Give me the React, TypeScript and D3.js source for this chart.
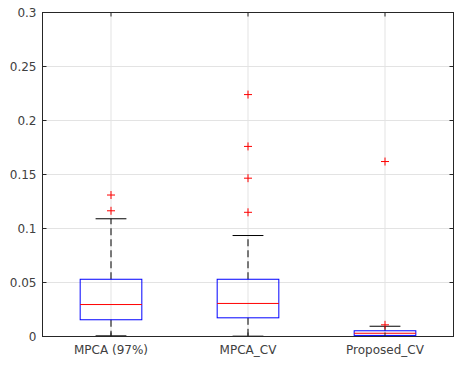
import React, { useEffect, useRef } from "react";
import * as d3 from "d3";

// box plot summary
const categories = ["MPCA (97%)", "MPCA_CV", "Proposed_CV"];
const q1 = [0.0155, 0.0173, 0.001];
const medians = [0.0296, 0.0306, 0.003];
const q3 = [0.053, 0.053, 0.0053];
const whiskerLow = [0.0006, 0.0003, 0.0003];
const whiskerHigh = [0.109, 0.0935, 0.0095];
const outliers = [
    [0.1164, 0.131],
    [0.115, 0.1466, 0.176, 0.224],
    [0.0108, 0.162]
];
const yTicks = [0, 0.05, 0.1, 0.15, 0.2, 0.25, 0.3];
const yTickLabels = ["0", "0.05", "0.1", "0.15", "0.2", "0.25", "0.3"];

const App = () => {
    const width = 474;
    const height = 365;
    const margin = { top: 12, right: 21, bottom: 29, left: 42 };

    const ref = useRef<SVGGElement>(null);

    useEffect(() => {
        const innerW = width - margin.left - margin.right;
        const innerH = height - margin.top - margin.bottom;

        const x = d3.scaleLinear().domain([0.5, 3.5]).range([0, innerW]);
        const y = d3.scaleLinear().domain([0, 0.3]).range([innerH, 0]);
        const boxW = x(1.225) - x(1);
        const capW = boxW / 2;
        const axisColor = "#262626";
        const textColor = "#404040";

        const g = d3.select(ref.current);
        g.selectAll("*").remove();

        // grid
        g.selectAll("line.hgrid")
            .data(yTicks)
            .enter()
            .append("line")
            .attr("class", "hgrid")
            .attr("x1", 0)
            .attr("x2", innerW)
            .attr("y1", d => y(d))
            .attr("y2", d => y(d))
            .attr("stroke", "#e3e3e3")
            .attr("stroke-width", 1);

        g.selectAll("line.vgrid")
            .data(categories)
            .enter()
            .append("line")
            .attr("class", "vgrid")
            .attr("x1", (d, i) => x(i + 1))
            .attr("x2", (d, i) => x(i + 1))
            .attr("y1", 0)
            .attr("y2", innerH)
            .attr("stroke", "#e3e3e3")
            .attr("stroke-width", 1);

        const boxes = g.selectAll("g.box")
            .data(categories)
            .enter()
            .append("g")
            .attr("class", "box");

        // whiskers (dashed)
        boxes.append("line")
            .attr("x1", (d, i) => x(i + 1))
            .attr("x2", (d, i) => x(i + 1))
            .attr("y1", (d, i) => y(q3[i]))
            .attr("y2", (d, i) => y(whiskerHigh[i]))
            .attr("stroke", "black")
            .attr("stroke-dasharray", "7,4");

        boxes.append("line")
            .attr("x1", (d, i) => x(i + 1))
            .attr("x2", (d, i) => x(i + 1))
            .attr("y1", (d, i) => y(q1[i]))
            .attr("y2", (d, i) => y(whiskerLow[i]))
            .attr("stroke", "black")
            .attr("stroke-dasharray", "7,4");

        // caps
        boxes.append("line")
            .attr("x1", (d, i) => x(i + 1) - capW)
            .attr("x2", (d, i) => x(i + 1) + capW)
            .attr("y1", (d, i) => y(whiskerHigh[i]))
            .attr("y2", (d, i) => y(whiskerHigh[i]))
            .attr("stroke", "black");

        boxes.append("line")
            .attr("x1", (d, i) => x(i + 1) - capW)
            .attr("x2", (d, i) => x(i + 1) + capW)
            .attr("y1", (d, i) => y(whiskerLow[i]))
            .attr("y2", (d, i) => y(whiskerLow[i]))
            .attr("stroke", "black");

        // box
        boxes.append("rect")
            .attr("x", (d, i) => x(i + 1) - boxW)
            .attr("width", 2 * boxW)
            .attr("y", (d, i) => y(q3[i]))
            .attr("height", (d, i) => y(q1[i]) - y(q3[i]))
            .attr("fill", "none")
            .attr("stroke", "#0000ff");

        // median
        boxes.append("line")
            .attr("x1", (d, i) => x(i + 1) - boxW)
            .attr("x2", (d, i) => x(i + 1) + boxW)
            .attr("y1", (d, i) => y(medians[i]))
            .attr("y2", (d, i) => y(medians[i]))
            .attr("stroke", "#ff0000");

        // outliers as '+'
        const pts = categories.flatMap((c, i) => outliers[i].map(v => ({ i, v })));
        const s = 4;
        const plus = g.selectAll("g.outlier")
            .data(pts)
            .enter()
            .append("g")
            .attr("class", "outlier")
            .attr("transform", d => `translate(${x(d.i + 1)},${y(d.v)})`);
        plus.append("line").attr("x1", -s).attr("x2", s).attr("y1", 0).attr("y2", 0).attr("stroke", "#ff0000");
        plus.append("line").attr("x1", 0).attr("x2", 0).attr("y1", -s).attr("y2", s).attr("stroke", "#ff0000");

        // axes frame
        g.append("rect")
            .attr("x", 0)
            .attr("y", 0)
            .attr("width", innerW)
            .attr("height", innerH)
            .attr("fill", "none")
            .attr("stroke", axisColor)
            .attr("stroke-width", 1);

        const tickLen = 4;
        // y ticks, both sides, inward
        yTicks.forEach(t => {
            g.append("line").attr("x1", 0).attr("x2", tickLen).attr("y1", y(t)).attr("y2", y(t)).attr("stroke", axisColor);
            g.append("line").attr("x1", innerW - tickLen).attr("x2", innerW).attr("y1", y(t)).attr("y2", y(t)).attr("stroke", axisColor);
        });
        // x ticks top and bottom
        categories.forEach((c, i) => {
            g.append("line").attr("x1", x(i + 1)).attr("x2", x(i + 1)).attr("y1", innerH).attr("y2", innerH - tickLen).attr("stroke", axisColor);
            g.append("line").attr("x1", x(i + 1)).attr("x2", x(i + 1)).attr("y1", 0).attr("y2", tickLen).attr("stroke", axisColor);
        });

        g.selectAll("text.ylab")
            .data(yTicks)
            .enter()
            .append("text")
            .attr("class", "ylab")
            .attr("x", -6)
            .attr("y", d => y(d))
            .attr("dy", "0.35em")
            .attr("text-anchor", "end")
            .attr("font-family", "DejaVu Sans")
            .attr("font-size", 12)
            .attr("fill", textColor)
            .text((d, i) => yTickLabels[i]);

        g.selectAll("text.xlab")
            .data(categories)
            .enter()
            .append("text")
            .attr("class", "xlab")
            .attr("x", (d, i) => x(i + 1))
            .attr("y", innerH + 13)
            .attr("dy", "0.35em")
            .attr("text-anchor", "middle")
            .attr("font-family", "DejaVu Sans")
            .attr("font-size", 12)
            .attr("fill", textColor)
            .text(d => d);
    }, []);

    return (
        <svg width={width} height={height} style={{ position: "absolute", left: 0, top: 0, background: "white" }}>
            <g ref={ref} transform={`translate(${margin.left + 0.5},${margin.top + 0.5})`} />
        </svg>
    );
};

export default App;
